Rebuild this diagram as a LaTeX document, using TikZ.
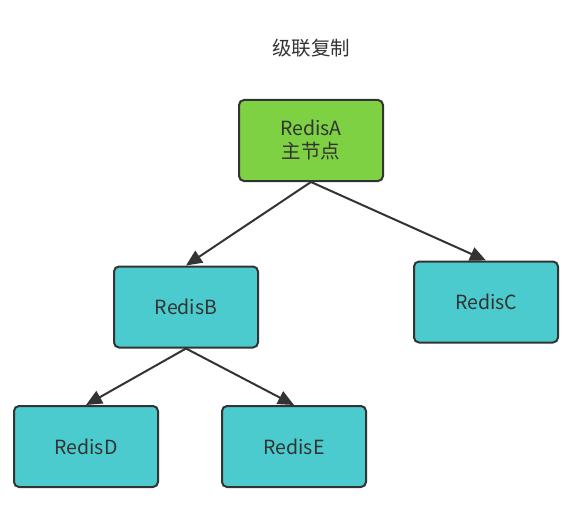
\documentclass[tikz,border=0pt]{standalone}
\usepackage{fontspec}
\setmainfont{Noto Sans CJK SC}
\usetikzlibrary{arrows.meta}
\definecolor{gnode}{RGB}{126,209,67}
\definecolor{cnode}{RGB}{75,203,205}
\definecolor{edge}{RGB}{51,51,51}
\definecolor{txt}{RGB}{51,51,51}
\begin{document}
\begin{tikzpicture}[x=1pt,y=1pt,
  box/.style={draw=edge,line width=2pt,rounded corners=5pt,minimum width=144pt,minimum height=81pt,inner sep=0pt,text=txt,font=\fontsize{19.5}{23}\selectfont,align=center},
  arr/.style={draw=edge,line width=2pt,-{Triangle[length=16pt,width=14pt]}}]
\useasboundingbox (0,0) rectangle (572,-513);
\node[text=txt,font=\fontsize{19.5}{23}\selectfont] (title) at (311,-48) {级联复制};
\node[box,fill=gnode] (A) at (311,-140.5) {RedisA\\主节点};
\node[box,fill=cnode] (B) at (186,-307) {RedisB};
\node[box,fill=cnode] (C) at (486,-302) {RedisC};
\node[box,fill=cnode] (D) at (86,-446.5) {RedisD};
\node[box,fill=cnode] (E) at (294,-446.5) {RedisE};
\draw[arr] (A.south) -- (B.north);
\draw[arr] (A.south) -- (C.north);
\draw[arr] (B.south) -- (D.north);
\draw[arr] (B.south) -- (E.north);
\end{tikzpicture}
\end{document}
